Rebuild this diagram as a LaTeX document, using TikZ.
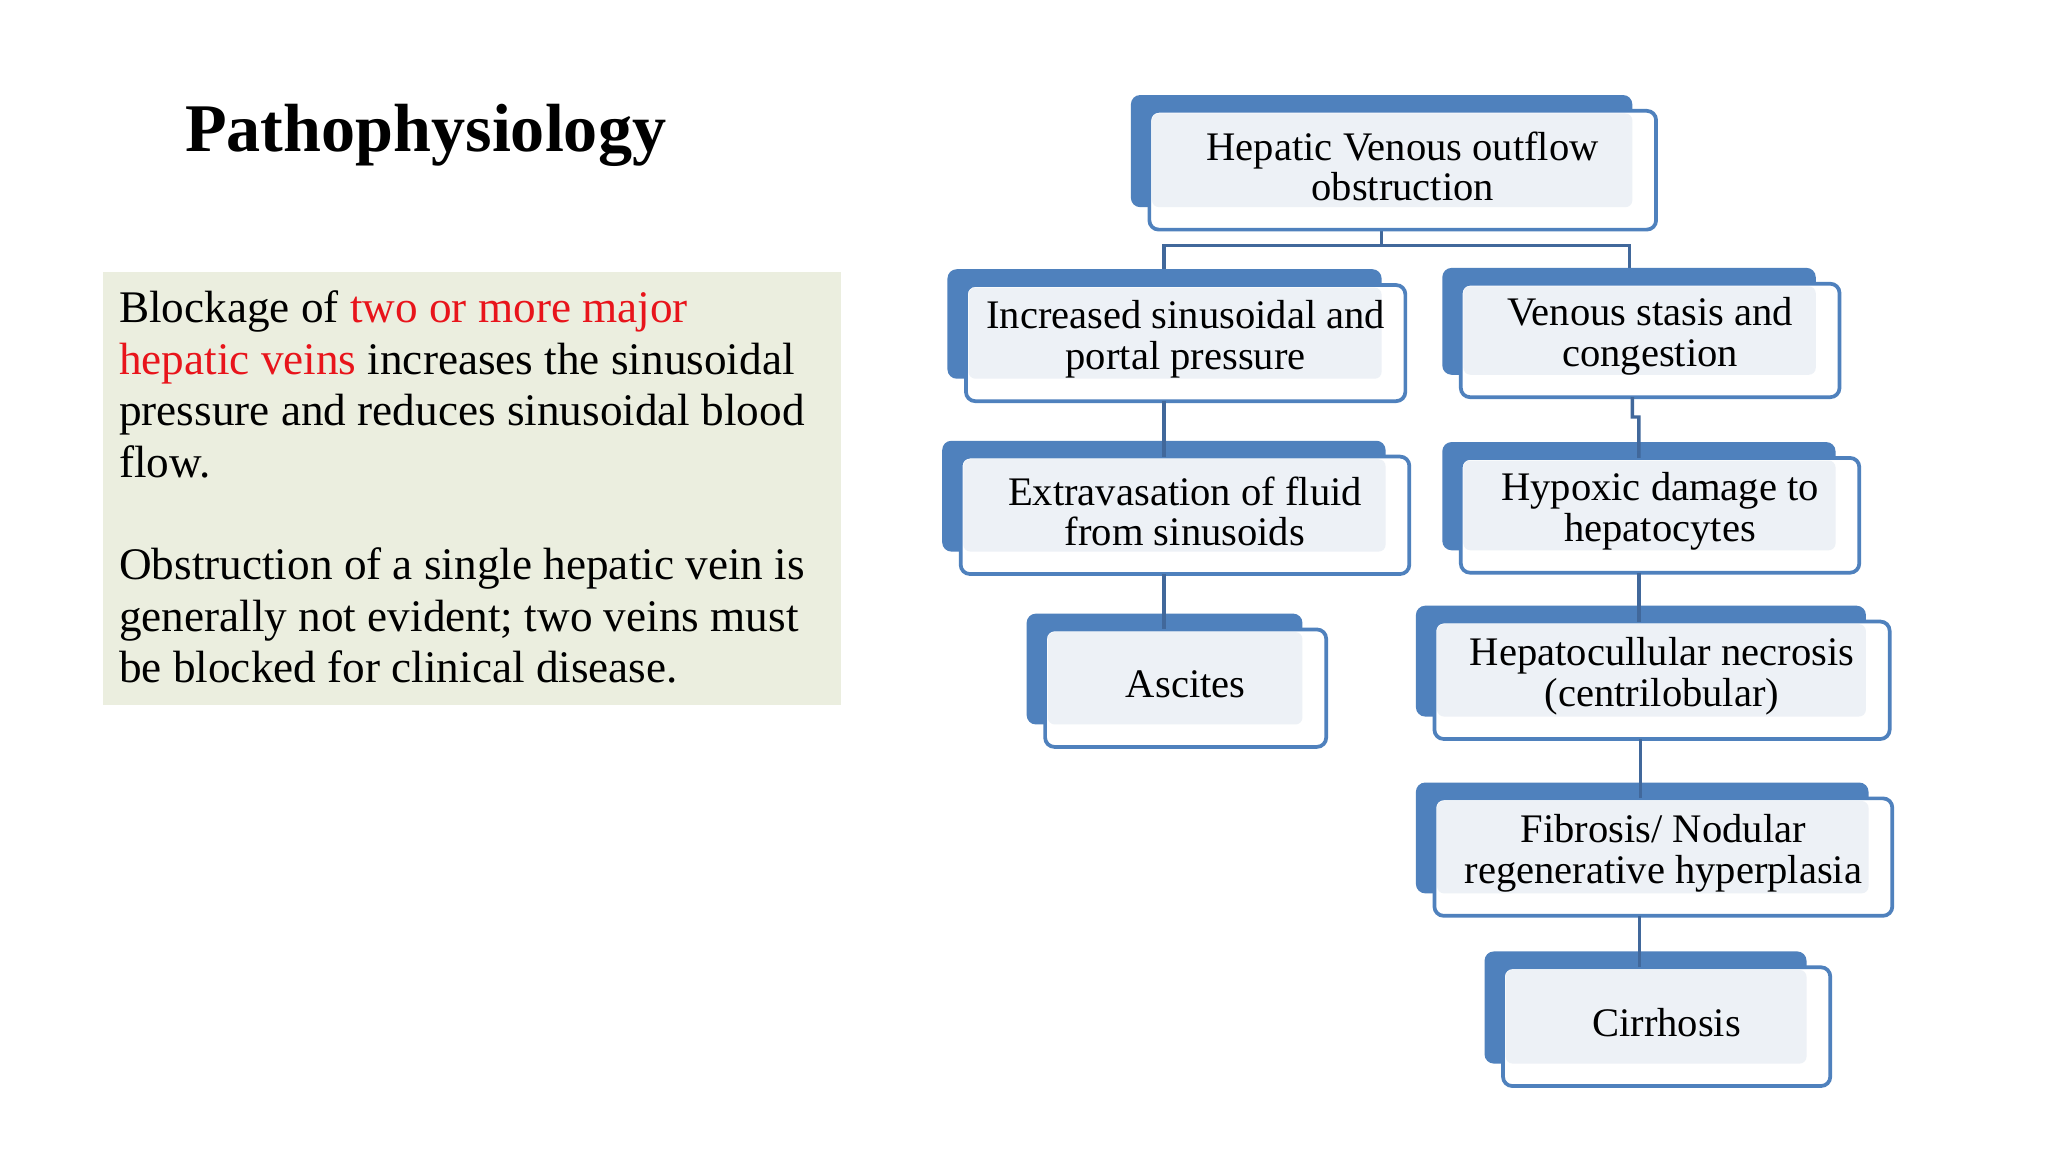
\documentclass[tikz,border=0pt]{standalone}
\usepackage{fontspec}
\setmainfont{Liberation Serif}
\definecolor{boxblue}{HTML}{4F81BD}
\definecolor{conncol}{HTML}{41689B}
\definecolor{lightf}{HTML}{EDF1F6}
\definecolor{panel}{HTML}{EBEEDF}
\definecolor{myred}{HTML}{E8141B}
\begin{document}
\begin{tikzpicture}[x=0.02cm,y=-0.02cm,
  frontbox/.style={draw=boxblue,line width=1.6pt,fill=white,rounded corners=4pt,inner sep=0pt,outer sep=0pt},
  txt/.style={align=center,font=\fontsize{17.5}{17.5}\selectfont,inner sep=0pt},
  conn/.style={draw=conncol,line width=1.5pt}]
\newcommand\mybox[6]{%
  \fill[boxblue,rounded corners=4pt] ({#2-#4/2-14},{#3-#5/2-12}) rectangle ({#2+#4/2-18},{#3+#5/2-17});
  \node[frontbox,minimum width=#4*0.02cm,minimum height=#5*0.02cm] (#1) at (#2,#3) {};
  \fill[lightf,rounded corners=3pt] ({#2-#4/2+2},{#3-#5/2+2}) rectangle ({#2+#4/2-18},{#3+#5/2-17});
  \node[txt] (#1t) at (#2,{#3-3}) {#6};}
\useasboundingbox (0,0) rectangle (1552,873);
\fill[white] (0,0) rectangle (1552,873);
% left
\node[anchor=base west,inner sep=0pt,font=\fontsize{29.4}{32}\selectfont\bfseries] (title) at (140,115) {Pathophysiology};
\node[anchor=north west,fill=panel,minimum width=559*0.02cm,minimum height=328*0.02cm,inner sep=0pt] (panel) at (78,206) {};
\node[anchor=north west,inner sep=0pt,align=left,font=\fontsize{19.5}{22.2}\selectfont] (ptext) at (90,220) {Blockage of \textcolor{myred}{two or more major}\\
\textcolor{myred}{hepatic veins} increases the sinusoidal\\
pressure and reduces sinusoidal blood\\
flow.\\[22.2pt]
Obstruction of a single hepatic vein is\\
generally not evident; two veins must\\
be blocked for clinical disease.};
% connectors (drawn beneath boxes)
\coordinate (tp) at (1047,160);
\coordinate (incn) at (882,230);
\coordinate (venn) at (1235,230);
\draw[conn] (tp) -- (1047,186) coordinate (tj) -| (incn);
\draw[conn] (tj) -| (venn);
\mybox{top}{1063}{129}{384}{90}{Hepatic Venous outflow\\obstruction}
\mybox{inc}{898.5}{260}{333}{88}{Increased sinusoidal and\\portal pressure}
\mybox{ven}{1250.5}{258}{287}{86}{Venous stasis and\\congestion}
\mybox{ext}{898}{390.5}{340}{89}{Extravasation of fluid\\from sinusoids}
\mybox{hyp}{1258}{390.5}{302}{87}{Hypoxic damage to\\hepatocytes}
\mybox{asc}{898.5}{521.5}{213}{89}{Ascites}
\mybox{hep}{1259.5}{515.5}{345}{89}{Hepatocullular necrosis\\(centrilobular)}
\mybox{fib}{1260.5}{649.5}{347}{89}{Fibrosis/ Nodular\\regenerative hyperplasia}
\mybox{cir}{1263}{778}{248}{90}{Cirrhosis}
\draw[conn] ([xshift=-0.33cm]inc.south) -- ([xshift=-0.33cm]inc.south |- ext.north);
\draw[conn] ([xshift=-0.32cm]ext.south) -- ([xshift=-0.32cm]ext.south |- asc.north);
\draw[conn] ([xshift=-0.27cm]ven.south) -- ++(0,15) -- ++(5,0) -- ([xshift=-0.32cm]hyp.north);
\draw[conn] ([xshift=-0.32cm]hyp.south) -- ([xshift=-0.32cm]hyp.south |- hep.north);
\draw[conn] ([xshift=-0.33cm]hep.south) -- ([xshift=-0.33cm]hep.south |- fib.north);
\draw[conn] ([xshift=-0.36cm]fib.south) -- ([xshift=-0.36cm]fib.south |- cir.north);
\end{tikzpicture}
\end{document}
